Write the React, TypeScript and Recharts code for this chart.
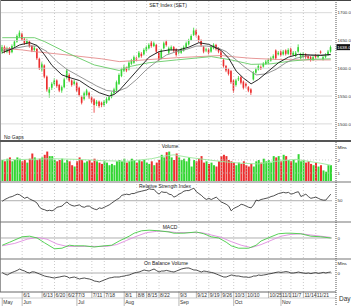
import { ComposedChart, Bar, Line, XAxis, YAxis, ReferenceLine, Cell } from 'recharts'

// trading days per month
const mayDays = [21, 22, 23, 24, 25, 28, 30, 31]
const junDays = [1, 4, 5, 6, 7, 8, 11, 12, 13, 14, 15, 18, 19, 20, 21, 22, 25, 26, 27, 28, 29]
const julDays = [2, 3, 4, 5, 6, 9, 10, 11, 12, 13, 16, 17, 18, 19, 20, 23, 24, 25, 26, 31]
const augDays = [1, 2, 3, 6, 7, 8, 9, 10, 14, 15, 16, 17, 20, 21, 22, 23, 24, 27, 28, 29, 30, 31]
const sepDays = [3, 4, 5, 6, 7, 10, 11, 12, 13, 14, 17, 18, 19, 20, 21, 24, 25, 26, 27, 28]
const octDays = [1, 2, 3, 4, 5, 8, 9, 10, 11, 12, 16, 17, 18, 19, 22, 24, 25, 26, 29, 30, 31]
const novDays = [1, 2, 5, 6, 7, 8, 9, 12, 13, 14, 15, 16, 19, 20, 21, 22, 23, 26, 27, 28, 29]

const dates = [
  ...mayDays.map((d) => `5/${d}`),
  ...junDays.map((d) => `6/${d}`),
  ...julDays.map((d) => `7/${d}`),
  ...augDays.map((d) => `8/${d}`),
  ...sepDays.map((d) => `9/${d}`),
  ...octDays.map((d) => `10/${d}`),
  ...novDays.map((d) => `11/${d}`),
]

const dateTicks = ['6/1', '6/13', '6/20', '6/27', '7/3', '7/11', '7/18', '8/1', '8/8', '8/15', '8/22', '9/3', '9/12', '9/19', '9/26', '10/3', '10/10', '10/25', '11/1', '11/7', '11/14', '11/21']
const monthTicks = ['5/21', '6/1', '7/3', '8/1', '9/3', '10/3', '11/1']
const monthNames = ['May', 'Jun', 'Jul', 'Aug', 'Sep', 'Oct', 'Nov']
const priceTicks = [1500, 1550, 1600, 1650, 1700]

const opens = [
  1630, 1638, 1630, 1636, 1629, 1640, 1648, 1657, 1662, 1652,
  1645, 1648, 1640, 1633, 1635, 1617, 1598, 1605, 1585, 1556,
  1565, 1572, 1578, 1570, 1560, 1566, 1583, 1588, 1578, 1572,
  1574, 1565, 1549, 1545, 1552, 1556, 1548, 1544, 1536, 1540,
  1538, 1534, 1538, 1543, 1548, 1555, 1560, 1572, 1586, 1595,
  1600, 1598, 1608, 1610, 1618, 1620, 1626, 1625, 1632, 1636,
  1646, 1640, 1642, 1628, 1618, 1636, 1648, 1628, 1634, 1638,
  1634, 1628, 1628, 1632, 1638, 1643, 1651, 1660, 1668, 1658,
  1650, 1638, 1632, 1634, 1630, 1636, 1642, 1636, 1630, 1615,
  1604, 1598, 1595, 1578, 1570, 1580, 1584, 1576, 1572, 1566,
  1562, 1580, 1592, 1598, 1602, 1603, 1608, 1610, 1614, 1618,
  1632, 1625, 1630, 1625, 1632, 1626, 1635, 1624, 1622, 1630,
  1618, 1620, 1625, 1622, 1620, 1615, 1624, 1620, 1630, 1616,
  1620, 1624, 1630,
]
const highs = [
  1642, 1641, 1639, 1638, 1643, 1651, 1661, 1668, 1664, 1655,
  1653, 1650, 1642, 1640, 1636, 1619, 1611, 1607, 1587, 1566,
  1575, 1582, 1580, 1572, 1569, 1583, 1599, 1591, 1580, 1579,
  1576, 1567, 1551, 1558, 1563, 1558, 1550, 1546, 1543, 1542,
  1540, 1543, 1548, 1551, 1558, 1565, 1578, 1591, 1601, 1606,
  1603, 1613, 1617, 1623, 1621, 1631, 1629, 1636, 1641, 1645,
  1649, 1648, 1644, 1630, 1635, 1648, 1651, 1639, 1641, 1640,
  1636, 1633, 1637, 1641, 1648, 1653, 1661, 1673, 1670, 1660,
  1652, 1640, 1637, 1636, 1641, 1645, 1644, 1638, 1632, 1617,
  1606, 1600, 1597, 1580, 1581, 1586, 1586, 1578, 1574, 1568,
  1564, 1595, 1601, 1607, 1605, 1611, 1615, 1618, 1621, 1625,
  1634, 1631, 1632, 1633, 1634, 1636, 1637, 1631, 1631, 1643,
  1628, 1629, 1627, 1624, 1622, 1623, 1626, 1625, 1632, 1623,
  1627, 1633, 1641,
]
const lows = [
  1626, 1627, 1627, 1624, 1627, 1638, 1646, 1655, 1649, 1642,
  1643, 1637, 1629, 1630, 1615, 1597, 1594, 1582, 1558, 1547,
  1561, 1569, 1565, 1557, 1556, 1564, 1581, 1575, 1567, 1569,
  1557, 1549, 1535, 1542, 1550, 1545, 1537, 1520, 1532, 1529,
  1530, 1531, 1536, 1541, 1546, 1553, 1558, 1570, 1584, 1593,
  1593, 1596, 1606, 1608, 1613, 1618, 1619, 1623, 1630, 1634,
  1637, 1638, 1627, 1613, 1616, 1634, 1639, 1625, 1632, 1629,
  1621, 1625, 1626, 1630, 1636, 1641, 1649, 1658, 1657, 1647,
  1639, 1627, 1629, 1625, 1628, 1634, 1632, 1627, 1617, 1601,
  1593, 1587, 1572, 1556, 1567, 1577, 1571, 1562, 1565, 1557,
  1552, 1578, 1590, 1596, 1597, 1601, 1606, 1608, 1612, 1616,
  1615, 1623, 1621, 1623, 1623, 1624, 1622, 1622, 1620, 1628,
  1616, 1618, 1617, 1615, 1612, 1613, 1617, 1618, 1626, 1614,
  1618, 1622, 1628,
]
const closes = [
  1638, 1630, 1636, 1628, 1640, 1648, 1658, 1664, 1652, 1645,
  1650, 1640, 1632, 1637, 1618, 1600, 1608, 1585, 1562, 1562,
  1572, 1578, 1568, 1560, 1566, 1580, 1596, 1578, 1570, 1576,
  1560, 1552, 1538, 1555, 1560, 1548, 1540, 1534, 1540, 1532,
  1534, 1540, 1545, 1548, 1555, 1562, 1575, 1588, 1598, 1602,
  1596, 1610, 1614, 1620, 1616, 1628, 1622, 1633, 1638, 1642,
  1640, 1645, 1630, 1616, 1632, 1645, 1642, 1636, 1638, 1632,
  1624, 1630, 1634, 1638, 1645, 1650, 1658, 1668, 1660, 1650,
  1642, 1630, 1634, 1628, 1638, 1642, 1635, 1630, 1620, 1604,
  1596, 1590, 1575, 1560, 1578, 1582, 1574, 1565, 1568, 1560,
  1556, 1592, 1598, 1604, 1600, 1608, 1612, 1615, 1618, 1622,
  1618, 1628, 1624, 1630, 1626, 1633, 1625, 1628, 1628, 1638,
  1625, 1626, 1620, 1618, 1615, 1620, 1620, 1622, 1628, 1620,
  1624, 1630, 1638,
]

// volume, millions
const volumes = [
  2.0, 1.9, 2.1, 2.2, 1.9, 2.0, 2.2, 2.1, 1.9, 2.0,
  1.8, 2.1, 2.5, 2.2, 2.0, 2.1, 2.2, 2.4, 2.65, 2.3,
  2.3, 2.0, 1.9, 2.0, 2.1, 1.8, 2.0, 1.9, 1.6, 1.5,
  1.9, 2.2, 2.0, 1.8, 1.9, 2.0, 1.8, 2.1, 1.9, 1.8,
  1.7, 1.9, 1.8, 1.6, 1.7, 1.6, 1.9, 2.0, 1.9, 2.1,
  1.8, 1.9, 2.1, 2.0, 1.8, 2.0, 1.9, 2.0, 1.8, 1.7,
  1.9, 1.6, 1.8, 2.0, 2.4, 2.2, 2.6, 2.65, 2.2, 2.0,
  2.5, 2.2, 2.0, 2.1, 1.9, 2.2, 1.5, 2.0, 1.9, 2.1,
  2.3, 1.8, 1.9, 1.7, 1.8, 1.6, 1.5, 1.9, 2.3, 2.4,
  2.3, 2.0, 1.9, 1.8, 1.6, 1.8, 1.7, 1.9, 1.6, 1.5,
  1.7, 1.5, 1.9, 2.0, 1.8, 2.1, 1.9, 2.0, 1.8, 2.3,
  2.2, 2.3, 1.9, 2.4, 2.3, 2.0, 1.9, 2.0, 1.8, 2.45,
  1.9, 2.0, 1.8, 1.9, 1.7, 1.6, 1.8, 1.5, 1.6, 1.2,
  1.1, 1.6, 1.6,
]

const rsi = [
  49, 52, 54, 56, 57, 59, 61, 60, 57, 54,
  56, 53, 51, 49, 46, 39, 36, 35, 33, 34,
  33, 35, 39, 40, 41, 45, 48, 44, 42, 41,
  42, 43, 40, 39, 41, 41, 38, 36, 35, 38,
  37, 39, 41, 43, 46, 49, 52, 54, 59, 60,
  61, 60, 62, 62, 64, 65, 66, 67, 68, 70,
  69, 69, 64, 61, 65, 64, 64, 61, 60, 56,
  58, 61, 63, 66, 67, 67, 69, 71, 65, 62,
  59, 55, 52, 54, 52, 54, 56, 52, 48, 46,
  44, 41, 33, 37, 39, 41, 44, 43, 41, 39,
  38, 43, 51, 50, 52, 53, 54, 55, 57, 58,
  60, 62, 63, 64, 63, 64, 61, 62, 64, 65,
  57, 59, 61, 57, 54, 55, 56, 54, 52, 51,
  51, 56, 61,
]

// on balance volume, millions
const obv = [
  0.2, -0.5, -1, -0.3, 0.3, 0.8, 1.3, 2, 1.4, 1,
  0.3, 0, 0.6, 0.5, 0, -0.5, -1, -1.5, -1.8, -2,
  -2.3, -2.5, -2.2, -2, -1.7, -1.5, -1.8, -2.5, -2.2, -2,
  -2.5, -3, -2.7, -2.5, -2.8, -3, -3.4, -4, -4.2, -4.5,
  -4, -3.5, -3, -2.5, -2.3, -2, -2, -2, -1.7, -1.5,
  -1.2, -1, -0.5, 0, 0.3, 0.5, 1, 1.5, 1.2, 1,
  1.5, 2, 1.2, 0.5, 1, 1, 1.3, 1, 0.7, 0.5,
  1, 1.5, 2, 2.3, 2.5, 2.5, 2, 1.5, 1.5, 1,
  0.5, 1, 0.8, 0.5, 0.3, 0, -0.5, -1, -1.5, -2,
  -2, -1.5, -1, -1.2, -1.5, -1.5, -1.8, -2, -2, -2.2,
  -2, -1.5, -1.5, -1, -1.2, -1, -0.8, -0.5, -0.3, 0,
  0.3, 0.5, 0.3, 0.5, 0.7, 0.5, 0, 0, 0.2, 0.5,
  0.2, 0, -0.2, 0, -0.3, 0, 0.2, -0.2, 0, 0.3,
  0, 0.3, 0.5,
]

// smooth overlays, [day index, value]
const maFast = [[0, 1628], [4, 1635], [7, 1642], [11, 1646], [14, 1641], [17, 1624], [20, 1605], [24, 1588], [28, 1582], [31, 1578], [35, 1566], [39, 1556], [43, 1550], [45, 1553], [47, 1560], [51, 1580], [55, 1600], [59, 1620], [63, 1630], [67, 1633], [71, 1633], [75, 1638], [79, 1646], [83, 1643], [88, 1632], [91, 1618], [94, 1595], [97, 1582], [100, 1572], [103, 1580], [107, 1595], [111, 1610], [115, 1620], [119, 1625], [124, 1624], [128, 1623], [132, 1625]]
const maMid = [[0, 1632], [5, 1636], [10, 1640], [14, 1640], [18, 1630], [22, 1612], [26, 1598], [30, 1588], [34, 1578], [38, 1568], [42, 1560], [46, 1558], [50, 1565], [54, 1580], [58, 1598], [62, 1612], [66, 1624], [70, 1630], [74, 1634], [78, 1640], [82, 1640], [86, 1638], [90, 1630], [94, 1615], [98, 1600], [102, 1588], [106, 1590], [110, 1598], [114, 1610], [118, 1618], [122, 1622], [127, 1624], [132, 1624]]
const maSlow = [[0, 1655], [13, 1655], [17, 1648], [26, 1628], [37, 1606], [47, 1596], [51, 1603], [59, 1610], [70, 1615], [84, 1621], [92, 1615], [100, 1607], [108, 1608], [116, 1613], [124, 1616], [132, 1617]]
const maLong = [[0, 1636], [8, 1633], [13, 1630], [26, 1624], [40, 1617], [47, 1612], [57, 1615], [70, 1619], [88, 1623], [92, 1621], [100, 1618], [110, 1616], [120, 1615], [132, 1615]]
const volAvg = [[0, 2.0], [10, 2.05], [20, 2.1], [30, 2.05], [40, 1.95], [50, 1.9], [60, 2.1], [65, 2.3], [69, 2.4], [75, 2.2], [83, 2.0], [90, 1.85], [96, 1.75], [103, 1.7], [110, 1.9], [118, 2.05], [123, 1.9], [128, 1.75], [132, 1.6]]
const macdPts = [[0, -12], [3, -7], [8, 2], [11, 3], [14, 0], [17, -8], [21, -18], [24, -17], [27, -12], [29, -13], [33, -13], [37, -15], [41, -13], [44, -12], [47, -5], [51, 3], [53, 8], [56, 12], [59, 13], [63, 12], [67, 10], [69, 8], [73, 8], [78, 10], [81, 7], [84, 2], [87, 0], [90, -7], [92, -13], [95, -17], [99, -17], [102, -12], [104, -5], [108, 2], [111, 7], [114, 8], [116, 8], [120, 7], [124, 3], [128, 2], [132, 0]]
const signalPts = [[0, -13], [5, -9], [10, -2], [14, 1], [18, -2], [22, -10], [26, -14], [30, -14], [36, -14], [42, -14], [46, -11], [50, -4], [54, 3], [58, 9], [62, 11], [66, 11], [70, 9], [76, 9], [80, 9], [84, 5], [88, 1], [92, -6], [96, -12], [100, -16], [104, -11], [108, -4], [112, 3], [116, 6], [120, 7], [124, 5], [128, 3], [132, 1]]

const GREEN = '#33d633'
const RED = '#ec2f2f'
const FONT = 'Liberation Sans, Arial, sans-serif'
const W = 351
const lastClose = closes[closes.length - 1]

const lookup = (pts: number[][]) => {
  const m = new Map(pts.map(([i, v]) => [i, v]))
  return (i: number) => (m.has(i) ? (m.get(i) as number) : null)
}
const fastAt = lookup(maFast)
const midAt = lookup(maMid)
const slowAt = lookup(maSlow)
const longAt = lookup(maLong)
const volAvgAt = lookup(volAvg)
const macdAt = lookup(macdPts)
const signalAt = lookup(signalPts)

const rows = dates.map((date, i) => ({
  date,
  range: [lows[i], highs[i]],
  open: opens[i],
  high: highs[i],
  low: lows[i],
  close: closes[i],
  up: closes[i] >= opens[i],
  vol: volumes[i],
  volAvg: volAvgAt(i),
  maFast: fastAt(i),
  maMid: midAt(i),
  maSlow: slowAt(i),
  maLong: longAt(i),
  rsi: rsi[i],
  macd: macdAt(i),
  signal: signalAt(i),
  obv: obv[i],
}))

const Candle = (props: any) => {
  const { x, y, width, height, payload } = props
  const { open, close, high, low } = payload
  const top = Math.min(y, y + height)
  const h = Math.abs(height)
  const k = high > low ? h / (high - low) : 0
  const yo = top + (high - open) * k
  const yc = top + (high - close) * k
  const color = close >= open ? GREEN : RED
  const cx = x + width / 2
  const bw = Math.max(1.5, width * 0.8)
  return (
    <g>
      <line x1={cx} x2={cx} y1={top} y2={top + h} stroke={color} strokeWidth={0.8} />
      <rect x={cx - bw / 2} y={Math.min(yo, yc)} width={bw} height={Math.max(0.8, Math.abs(yc - yo))} fill={color} />
    </g>
  )
}

const sideTick = (fmt: (v: number) => string) => (props: any) => {
  const { y, payload } = props
  const v = payload.value
  if (v === lastClose && fmt(v).includes('.')) {
    return (
      <g>
        <rect x={336.5} y={y - 3} width={13.5} height={6} fill="#111" />
        <text x={337.2} y={y + 1.7} fontSize={4.4} fill="#fff" fontFamily={FONT}>{fmt(v)}</text>
      </g>
    )
  }
  return (
    <text x={337.5} y={y + 1.7} fontSize={4.4} fill="#333" fontFamily={FONT}>{fmt(v)}</text>
  )
}

const DateTick = (props: any) => {
  const { x, payload } = props
  const label = payload.value
  const mi = monthTicks.indexOf(label)
  const day = dateTicks.includes(label)
  return (
    <g fontFamily={FONT} fontSize={5} fill="#333">
      {day && <line x1={x} x2={x} y1={33} y2={39} stroke="#888" strokeWidth={0.6} />}
      {day && <text x={x + 1} y={38}>{label}</text>}
      {mi >= 0 && <line x1={x} x2={x} y1={39} y2={47} stroke="#888" strokeWidth={0.6} />}
      {mi >= 0 && <text x={x + 1} y={45}>{monthNames[mi]}</text>}
    </g>
  )
}

const vGrid = () =>
  dateTicks.map((d) => <ReferenceLine key={d} x={d} stroke="#b5b5b5" strokeDasharray="1 2" strokeWidth={0.7} />)

const common = { width: W, data: rows, barCategoryGap: 0 }

export default function App() {
  return (
    <div style={{ position: 'relative', width: W, height: 306, background: '#fff', fontFamily: FONT }}>
      <style>{'body{margin:0}'}</style>

      <div style={{ position: 'absolute', left: 0, top: 0 }}>
        <ComposedChart {...common} height={141} margin={{ top: 1, right: 0, bottom: 1, left: 1 }}>
          <XAxis dataKey="date" scale="band" hide />
          <YAxis orientation="right" width={19} domain={[1471, 1721]} allowDataOverflow ticks={[...priceTicks, lastClose]} interval={0} tick={sideTick((v) => v.toFixed(1))} axisLine={false} tickLine={false} />
          {priceTicks.map((p) => <ReferenceLine key={p} y={p} stroke="#d0d0d0" strokeWidth={0.8} />)}
          {vGrid()}
          <Line dataKey="maLong" stroke="#e48c8c" strokeWidth={0.9} dot={false} connectNulls isAnimationActive={false} />
          <Line dataKey="maSlow" stroke="#66cc66" strokeWidth={0.9} dot={false} connectNulls isAnimationActive={false} />
          <Line dataKey="maMid" stroke="#8a8a8a" strokeWidth={0.9} dot={false} connectNulls isAnimationActive={false} />
          <Line dataKey="maFast" stroke="#111" strokeWidth={0.9} dot={false} connectNulls isAnimationActive={false} />
          <Bar dataKey="range" shape={<Candle />} isAnimationActive={false} />
        </ComposedChart>
      </div>

      <div style={{ position: 'absolute', left: 0, top: 141 }}>
        <ComposedChart {...common} height={41} margin={{ top: 2, right: 0, bottom: 1, left: 1 }} barCategoryGap="18%">
          <XAxis dataKey="date" scale="band" hide />
          <YAxis orientation="right" width={19} domain={[0.385, 3.308]} allowDataOverflow ticks={[1, 2]} interval={0} tick={sideTick((v) => String(v))} axisLine={false} tickLine={false} />
          <ReferenceLine y={2} stroke="#bdbdbd" strokeDasharray="1 2" strokeWidth={0.7} />
          <ReferenceLine y={1} stroke="#bdbdbd" strokeDasharray="1 2" strokeWidth={0.7} />
          {vGrid()}
          <Bar dataKey="vol" isAnimationActive={false}>
            {rows.map((r, i) => <Cell key={i} fill={r.up ? GREEN : RED} />)}
          </Bar>
          <Line dataKey="volAvg" stroke="#9be89b" strokeWidth={0.9} dot={false} connectNulls isAnimationActive={false} />
        </ComposedChart>
      </div>

      <div style={{ position: 'absolute', left: 0, top: 182 }}>
        <ComposedChart {...common} height={40} margin={{ top: 2, right: 0, bottom: 1, left: 1 }}>
          <XAxis dataKey="date" scale="band" hide />
          <YAxis orientation="right" width={19} domain={[16, 78]} allowDataOverflow ticks={[50]} interval={0} tick={sideTick((v) => String(v))} axisLine={false} tickLine={false} />
          <ReferenceLine y={50} stroke="#9a9a9a" strokeWidth={0.8} />
          {vGrid()}
          <Line dataKey="rsi" stroke="#222" strokeWidth={0.8} dot={false} isAnimationActive={false} />
        </ComposedChart>
      </div>

      <div style={{ position: 'absolute', left: 0, top: 222 }}>
        <ComposedChart {...common} height={37} margin={{ top: 2, right: 0, bottom: 1, left: 1 }}>
          <XAxis dataKey="date" scale="band" hide />
          <YAxis orientation="right" width={19} domain={[-33.3, 23.3]} allowDataOverflow ticks={[0]} interval={0} tick={sideTick((v) => String(v))} axisLine={false} tickLine={false} />
          <ReferenceLine y={0} stroke="#9a9a9a" strokeWidth={0.8} />
          {vGrid()}
          <Line dataKey="signal" stroke="#e08ce0" strokeWidth={0.9} dot={false} connectNulls isAnimationActive={false} />
          <Line dataKey="macd" stroke="#45cc45" strokeWidth={0.9} dot={false} connectNulls isAnimationActive={false} />
        </ComposedChart>
      </div>

      <div style={{ position: 'absolute', left: 0, top: 259 }}>
        <ComposedChart {...common} height={47} margin={{ top: 2, right: 0, bottom: 0, left: 1 }}>
          <XAxis dataKey="date" scale="band" height={14} ticks={['5/21', ...dateTicks]} interval={0} tick={<DateTick />} axisLine={false} tickLine={false} />
          <YAxis orientation="right" width={19} domain={[-9.5, 6]} allowDataOverflow ticks={[0]} interval={0} tick={sideTick((v) => String(v))} axisLine={false} tickLine={false} />
          <ReferenceLine y={0} stroke="#9a9a9a" strokeWidth={0.8} />
          {vGrid()}
          <Line dataKey="obv" stroke="#222" strokeWidth={0.8} dot={false} isAnimationActive={false} />
        </ComposedChart>
      </div>

      <svg width={W} height={306} style={{ position: 'absolute', left: 0, top: 0, pointerEvents: 'none' }} fontFamily={FONT}>
        <line x1={0} x2={W} y1={0.5} y2={0.5} stroke="#444" />
        <line x1={0.5} x2={0.5} y1={0} y2={292} stroke="#999" />
        <line x1={0} x2={W} y1={141} y2={141} stroke="#555" strokeWidth={2} />
        <line x1={0} x2={W} y1={182} y2={182} stroke="#777" strokeWidth={1.2} />
        <line x1={0} x2={W} y1={222} y2={222} stroke="#777" strokeWidth={1.2} />
        <line x1={0} x2={W} y1={259} y2={259} stroke="#777" strokeWidth={1.2} />
        <line x1={0} x2={336} y1={292} y2={292} stroke="#666" />
        <line x1={0} x2={336} y1={298} y2={298} stroke="#aaa" strokeWidth={0.6} />
        <line x1={336} x2={336} y1={0} y2={306} stroke="#555" strokeDasharray="1 1" />
        <text x={168} y={7} fontSize={5} textAnchor="middle" fill="#222">SET Index (SET)</text>
        <text x={4} y={139} fontSize={5} fill="#222">No Gaps</text>
        <text x={170} y={148} fontSize={5} textAnchor="middle" fill="#222">Volume</text>
        <text x={337.5} y={149} fontSize={4.4} fill="#222">Mlns</text>
        <text x={165} y={188} fontSize={5} textAnchor="middle" fill="#222">Relative Strength Index</text>
        <text x={170} y={229} fontSize={5} textAnchor="middle" fill="#222">MACD</text>
        <text x={166} y={265} fontSize={5} textAnchor="middle" fill="#222">On Balance Volume</text>
        <text x={337.5} y={265} fontSize={4.4} fill="#222">Mlns</text>
        <text x={339} y={301} fontSize={6.5} fill="#333">Day</text>
      </svg>
    </div>
  )
}
